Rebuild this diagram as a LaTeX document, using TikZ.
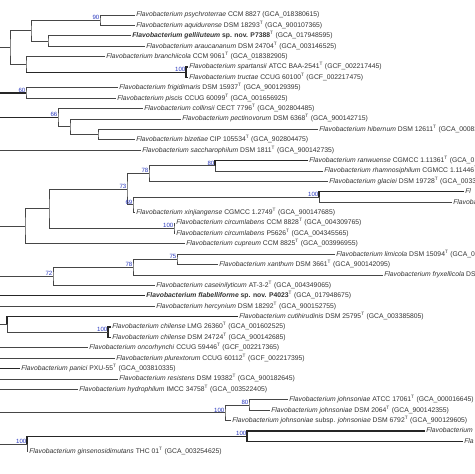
\documentclass[tikz,border=0pt]{standalone}
\usepackage{fontspec}
\setmainfont{Liberation Sans}
\usepackage{xcolor}
\definecolor{treegray}{RGB}{70,70,70}
\definecolor{labgray}{RGB}{50,50,50}
\definecolor{bootblue}{RGB}{40,55,190}
\usetikzlibrary{positioning}
\newcommand{\flavo}[1]{\textit{Flavobacterium #1}}
\newcommand{\typ}{\textsuperscript{T}}

\begin{document}
\begin{tikzpicture}[x=0.03cm,y=-0.03cm,
  leaf/.style={anchor=west,inner xsep=0.9pt,inner ysep=0pt,text=labgray,
               font=\fontsize{5.8}{6}\selectfont,text height=4.2pt,text depth=1.1pt},
  boot/.style={anchor=south east,inner sep=0.4pt,text=bootblue,
               font=\fontsize{5.2}{5.5}\selectfont},
  br/.style={draw=treegray,line width=0.55pt},
  brk/.style={draw=black!85,line width=1.1pt}]
\useasboundingbox (0,0) rectangle (474,474);
\clip (0,0) rectangle (474,474);
\fill[white] (0,0) rectangle (474,474);

\node[leaf] (l1) at (135,15.0) {\flavo{psychroterrae} CCM 8827 (GCA\_018380615)};
\node[leaf] (l2) at (135,25.4) {\flavo{aquidurense} DSM 18293\typ{} (GCA\_900107365)};
\node[leaf] (l3) at (131,35.8) {\textbf{\flavo{gelliluteum} sp. nov. P7388}\typ{} (GCA\_017948595)};
\node[leaf] (l4) at (145,46.2) {\flavo{araucananum} DSM 24704\typ{} (GCA\_003146525)};
\node[leaf] (l5) at (105,56.6) {\flavo{branchiicola} CCM 9061\typ{} (GCA\_018382905)};
\node[leaf] (l6) at (188,67.0) {\flavo{spartansii} ATCC BAA-2541\typ{} (GCF\_002217445)};
\node[leaf] (l7) at (188,77.4) {\flavo{tructae} CCUG 60100\typ{} (GCF\_002217475)};
\node[leaf] (l8) at (118,87.8) {\flavo{frigidimaris} DSM 15937\typ{} (GCA\_900129395)};
\node[leaf] (l9) at (116,98.2) {\flavo{piscis} CCUG 60099\typ{} (GCA\_001656925)};
\node[leaf] (l10) at (143,108.6) {\flavo{collinsii} CECT 7796\typ{} (GCA\_902804485)};
\node[leaf] (l11) at (181,119.0) {\flavo{pectinovorum} DSM 6368\typ{} (GCA\_900142715)};
\node[leaf] (l12) at (318,129.4) {\flavo{hibernum} DSM 12611\typ{} (GCA\_0008321};
\node[leaf] (l13) at (135,139.8) {\flavo{bizetiae} CIP 105534\typ{} (GCA\_902804475)};
\node[leaf] (l14) at (141,150.2) {\flavo{saccharophilum} DSM 1811\typ{} (GCA\_900142735)};
\node[leaf] (l15) at (308,160.6) {\flavo{ranwuense} CGMCC 1.11361\typ{} (GCA\_0};
\node[leaf] (l16) at (323,171.0) {\flavo{rhamnosiphilum} CGMCC 1.11446\typ{} (GC};
\node[leaf] (l17) at (328,181.4) {\flavo{glaciei} DSM 19728\typ{} (GCA\_00335};
\node[leaf] (l18) at (464,191.8) {\textit{Fl}};
\node[leaf] (l19) at (452,202.2) {\textit{Flavobac}};
\node[leaf] (l20) at (135,212.6) {\flavo{xinjiangense} CGMCC 1.2749\typ{} (GCA\_900147685)};
\node[leaf] (l21) at (175,223.0) {\flavo{circumlabens} CCM 8828\typ{} (GCA\_004309765)};
\node[leaf] (l22) at (175,233.4) {\flavo{circumlabens} P5626\typ{} (GCA\_004345565)};
\node[leaf] (l23) at (185,243.8) {\flavo{cupreum} CCM 8825\typ{} (GCA\_003996955)};
\node[leaf] (l24) at (335,254.2) {\flavo{limicola} DSM 15094\typ{} (GCA\_005};
\node[leaf] (l25) at (218,264.6) {\flavo{xanthum} DSM 3661\typ{} (GCA\_900142095)};
\node[leaf] (l26) at (383,275.0) {\flavo{fryxellicola} DSM 1620};
\node[leaf] (l27) at (155,285.4) {\flavo{caseinilyticum} AT-3-2\typ{} (GCA\_004349065)};
\node[leaf] (l28) at (145,295.8) {\textbf{\flavo{flabelliforme} sp. nov. P4023}\typ{} (GCA\_017948675)};
\node[leaf] (l29) at (155,306.2) {\flavo{hercynium} DSM 18292\typ{} (GCA\_900152755)};
\node[leaf] (l30) at (238,316.6) {\flavo{cutihirudinis} DSM 25795\typ{} (GCA\_003385805)};
\node[leaf] (l31) at (111,327.0) {\flavo{chilense} LMG 26360\typ{} (GCA\_001602525)};
\node[leaf] (l32) at (111,337.4) {\flavo{chilense} DSM 24724\typ{} (GCA\_900142685)};
\node[leaf] (l33) at (88,347.8) {\flavo{oncorhynchi} CCUG 59446\typ{} (GCF\_002217365)};
\node[leaf] (l34) at (115,358.2) {\flavo{plurextorum} CCUG 60112\typ{} (GCF\_002217395)};
\node[leaf] (l35) at (20,368.6) {\flavo{panici} PXU-55\typ{} (GCA\_003810335)};
\node[leaf] (l36) at (118,379.0) {\flavo{resistens} DSM 19382\typ{} (GCA\_900182645)};
\node[leaf] (l37) at (78,389.4) {\flavo{hydrophilum} IMCC 34758\typ{} (GCA\_003522405)};
\node[leaf] (l38) at (288,399.8) {\flavo{johnsoniae} ATCC 17061\typ{} (GCA\_000016645)};
\node[leaf] (l39) at (270,410.2) {\flavo{johnsoniae} DSM 2064\typ{} (GCA\_900142355)};
\node[leaf] (l40) at (231,420.6) {\flavo{johnsoniae} subsp. \textit{johnsoniae} DSM 6792\typ{} (GCA\_900129605)};
\node[leaf] (l41) at (425,431.0) {\textit{Flavobacterium}};
\node[leaf] (l42) at (463,441.4) {\textit{Fla}};
\node[leaf] (l43) at (28,451.8) {\flavo{ginsenosidimutans} THC 01\typ{} (GCA\_003254625)};

\coordinate (nP) at (100,20.2);
\coordinate (nG) at (48,41.0);
\coordinate (nA1) at (31,30.6);
\coordinate (nT) at (186,72.2);
\coordinate (nA3) at (26,64.4);
\coordinate (nA0) at (10,47.5);
\coordinate (nF) at (26,93.0);
\coordinate (nB2) at (98,134.6);
\coordinate (nB1) at (70,126.8);
\coordinate (nC) at (58,117.7);
\coordinate (nR) at (215,165.8);
\coordinate (nH) at (149,173.6);
\coordinate (nX) at (319,197.0);
\coordinate (nJ) at (133,204.8);
\coordinate (nK) at (127,189.2);
\coordinate (nL) at (174,228.2);
\coordinate (nD1) at (49,208.7);
\coordinate (nD0) at (25,226.3);
\coordinate (nM) at (177,259.4);
\coordinate (nN) at (133,267.2);
\coordinate (nQ) at (53,276.3);
\coordinate (nE1) at (108,332.2);
\coordinate (nE0) at (7,324.4);
\coordinate (nS) at (249,405.0);
\coordinate (nU) at (225,412.8);
\coordinate (nV) at (247,436.2);
\coordinate (nW) at (27,444.0);
\foreach \n/\yy in {A0/47.5,F/93.0,C/117.7,14/150.2,D0/226.3,Q/276.3,28/295.8,29/306.2,
                    E0/324.4,33/347.8,34/358.2,35/368.6,36/379.0,37/389.4,U/412.8,W/444.0}
  \coordinate (o\n) at (-3,\yy);

\draw[br] (l1.west) -| (nP) |- (l2.west);
\draw[br] (l3.west) -| (nG) |- (l4.west);
\draw[br] (nP) -| (nA1) |- (nG);
\draw[brk] (l6.west) -| (nT) |- (l7.west);
\draw[br] (l5.west) -| (nA3) |- (nT);
\draw[brk] (nA3 |- nT) -- (nT);
\draw[br] (nA1) -| (nA0) |- (nA3);
\draw[br] (oA0) -- (nA0);

\draw[br] (l8.west) -| (nF) |- (l9.west);
\draw[brk] (oF) -- (nF);
\draw[br] (l12.west) -| (nB2) |- (l13.west);
\draw[br] (l11.west) -| (nB1) |- (nB2);
\draw[br] (l10.west) -| (nC) |- (nB1);
\draw[brk] (oC) -- (nC);
\draw[br] (o14) -- (l14.west);

\draw[brk] (l15.west) -| (nR);
\draw[br] (nR) |- (l16.west);
\draw[br] (nR) -| (nH) |- (l17.west);
\draw[brk] (l18.west) -| (nX);
\draw[br] (nX) |- (l19.west);
\draw[br] (nX) -| (nJ) |- (l20.west);
\draw[br] (nH) -| (nK) |- (nJ);
\draw[br] (l21.west) -| (nL) |- (l22.west);
\draw[br] (nK) -| (nD1) |- (nL);
\draw[br] (nD1) -| (nD0) |- (l23.west);
\draw[br] (oD0) -- (nD0);

\draw[br] (l24.west) -| (nM) |- (l25.west);
\draw[br] (nM) -| (nN) |- (l26.west);
\draw[br] (nN) -| (nQ) |- (l27.west);
\draw[br] (oQ) -- (nQ);
\draw[brk] (o28) -- (l28.west);
\draw[br] (o29) -- (l29.west);

\draw[brk] (l31.west) -| (nE1) |- (l32.west);
\draw[brk] (l30.west) -| (nE0);
\draw[br] (nE0) |- (nE1);
\draw[br] (oE0) -- (nE0);
\draw[br] (o33) -- (l33.west);
\draw[br] (o34) -- (l34.west);
\draw[brk] (o35) -- (l35.west);
\draw[br] (o36) -- (l36.west);
\draw[br] (o37) -- (l37.west);

\draw[br] (l38.west) -| (nS) |- (l39.west);
\draw[br] (nS) -| (nU) |- (l40.west);
\draw[br] (oU) -- (nU);
\draw[brk] (l41.west) -| (nV) |- (l42.west);
\draw[brk] (nV) -| (nW);
\draw[br] (nW) |- (l43.west);
\draw[br] (oW) -- (nW);

\node[boot] (s1) at (nP) {90};
\node[boot] (s2) at (nT) {100};
\node[boot] (s3) at (nF) {60};
\node[boot] (s4) at (nC) {66};
\node[boot] (s5) at (nR) {80};
\node[boot] (s6) at (nH) {78};
\node[boot] (s7) at (nX) {100};
\node[boot] (s8) at (nJ) {69};
\node[boot] (s9) at (nK) {73};
\node[boot] (s10) at (nL) {100};
\node[boot] (s11) at (nM) {75};
\node[boot] (s12) at (nN) {78};
\node[boot] (s13) at (nQ) {72};
\node[boot] (s14) at (nE1) {100};
\node[boot] (s15) at (nS) {80};
\node[boot] (s16) at (nU) {100};
\node[boot] (s17) at (nV) {100};
\node[boot] (s18) at (nW) {100};
\end{tikzpicture}
\end{document}
